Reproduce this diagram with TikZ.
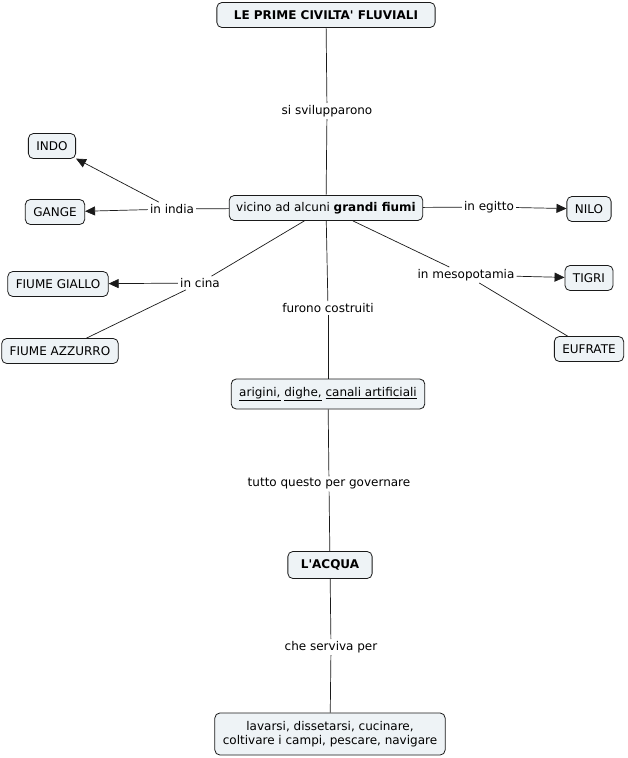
\documentclass[tikz,border=0pt]{standalone}
\usepackage{fontspec}
\setmainfont{DejaVu Sans}
\usepackage{xcolor}
\definecolor{cmapFill}{HTML}{EEF3F6}
\definecolor{cmapLine}{HTML}{1A1A1A}
\usetikzlibrary{arrows.meta}

\tikzset{
  concept/.style={rectangle, rounded corners=5pt, draw=cmapLine, line width=0.8pt,
    fill=cmapFill, minimum height=25pt, inner xsep=8pt, font=\fontsize{12}{14}\selectfont},
  boldconcept/.style={concept, font=\bfseries\fontsize{12}{14}\selectfont},
  linkphrase/.style={fill=white, inner sep=2pt, font=\fontsize{12}{14}\selectfont},
  link/.style={draw=cmapLine, line width=0.7pt},
  linkto/.style={link, -{Triangle[length=10pt,width=9pt]}}
}

\begin{document}
\begin{tikzpicture}[x=1pt, y=-1pt]
  \useasboundingbox[fill=white] (0,0) rectangle (627,758);
  % concepts
  \node[boldconcept, inner xsep=17pt] (title) at (326,15) {LE PRIME CIVILTA\textquotesingle{} FLUVIALI};
  \node[concept, inner xsep=7pt] (fiumi) at (326,208) {vicino ad alcuni \textbf{grandi fiumi}};
  \node[concept] (indo) at (52,146) {INDO};
  \node[concept] (gange) at (55,212) {GANGE};
  \node[concept] (giallo) at (58,284) {FIUME GIALLO};
  \node[concept] (azzurro) at (60,351) {FIUME AZZURRO};
  \node[concept] (nilo) at (589,209) {NILO};
  \node[concept] (tigri) at (589,278) {TIGRI};
  \node[concept] (eufrate) at (589,349) {EUFRATE};
  \node[concept, minimum height=30pt] (opere) at (328,394) {\underline{arigini,} \underline{dighe,} \underline{canali artificiali}};
  \node[boldconcept, minimum height=27pt, inner xsep=13pt] (acqua) at (330,565) {L\textquotesingle ACQUA};
  \node[concept, align=center, minimum height=42pt] (usi) at (330,734) {lavarsi, dissetarsi, cucinare,\\coltivare i campi, pescare, navigare};
  % linking phrases
  \node[linkphrase] (svil) at (327,111) {si svilupparono};
  \node[linkphrase] (india) at (172,209) {in india};
  \node[linkphrase] (cina) at (200,283) {in cina};
  \node[linkphrase] (egitto) at (489,207) {in egitto};
  \node[linkphrase] (meso) at (466,275) {in mesopotamia};
  \node[linkphrase] (costr) at (328,308) {furono costruiti};
  \node[linkphrase] (gov) at (329,484) {tutto questo per governare};
  \node[linkphrase] (serv) at (331,647) {che serviva per};
  % connections
  \draw[link] (title) -- (svil);
  \draw[link] (svil) -- (fiumi);
  \draw[link] (fiumi) -- (india);
  \draw[linkto] (india) -- (indo);
  \draw[linkto] (india) -- (gange);
  \draw[link] (fiumi) -- (cina);
  \draw[linkto] (cina) -- (giallo);
  \draw[link] (cina) -- (azzurro);
  \draw[link] (fiumi) -- (egitto);
  \draw[linkto] (egitto) -- (nilo);
  \draw[link] (fiumi) -- (meso);
  \draw[linkto] (meso) -- (tigri);
  \draw[link] (meso) -- (eufrate);
  \draw[link] (fiumi) -- (costr);
  \draw[link] (costr) -- (opere);
  \draw[link] (opere) -- (gov);
  \draw[link] (gov) -- (acqua);
  \draw[link] (acqua) -- (serv);
  \draw[link] (serv) -- (usi);
\end{tikzpicture}
\end{document}
